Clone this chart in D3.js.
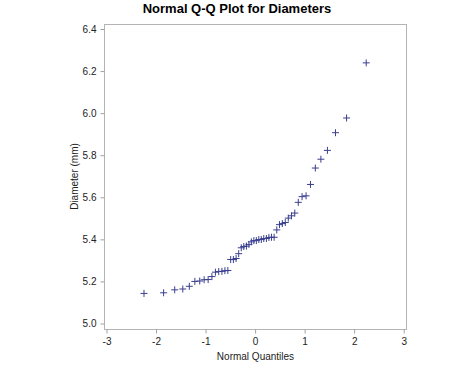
<!DOCTYPE html>
<html>
<head>
<meta charset="utf-8">
<script src="https://d3js.org/d3.v7.min.js"></script>
<style>
body { margin: 0; background: #fff; }
text { font-family: "Liberation Sans", Arial, sans-serif; }
</style>
</head>
<body>
<div id="chart"></div>
<script>
//normal quantiles (x)
var quantiles = [-2.243, -1.847, -1.623, -1.460, -1.328, -1.216, -1.118, -1.029, -0.948, -0.872,
	-0.801, -0.734, -0.670, -0.609, -0.550, -0.493, -0.438, -0.384, -0.331, -0.279,
	-0.228, -0.175, -0.125, -0.075, -0.025, 0.025, 0.075, 0.125, 0.175, 0.228,
	0.279, 0.331, 0.384, 0.438, 0.493, 0.550, 0.609, 0.670, 0.734, 0.801,
	0.872, 0.948, 1.029, 1.118, 1.216, 1.328, 1.460, 1.623, 1.847, 2.243];

//sorted diameters (y)
var diameters = [5.143, 5.146, 5.160, 5.164, 5.177, 5.200, 5.202, 5.208, 5.209, 5.223,
	5.244, 5.247, 5.248, 5.251, 5.252, 5.304, 5.304, 5.309, 5.332, 5.360,
	5.366, 5.368, 5.376, 5.388, 5.394, 5.394, 5.399, 5.399, 5.404, 5.404,
	5.409, 5.410, 5.410, 5.445, 5.470, 5.475, 5.480, 5.501, 5.512, 5.525,
	5.576, 5.603, 5.607, 5.661, 5.739, 5.781, 5.823, 5.907, 5.977, 6.239];

var xTicks = [-3, -2, -1, 0, 1, 2, 3];
var yTicks = [5.0, 5.2, 5.4, 5.6, 5.8, 6.0, 6.2, 6.4];

var width = 474;
var height = 370;

//frame of the plot area (window.top is reserved, so use other names)
var frameLeft = 104, frameRight = 407, frameTop = 24, frameBottom = 329;

var svg = d3.select("#chart")
	.append("svg")
	.attr("width", width)
	.attr("height", height);

var xScale = d3.scaleLinear()
	.domain([-3, 3])
	.range([106.5, 403.7]);

var yScale = d3.scaleLinear()
	.domain([5.0, 6.4])
	.range([323.5, 29]);

//title
svg.append("text")
	.attr("x", 237)
	.attr("y", 12.5)
	.style("text-anchor", "middle")
	.style("font-size", "13px")
	.style("font-weight", "bold")
	.attr("fill", "#000")
	.text("Normal Q-Q Plot for Diameters");

//frame
svg.append("rect")
	.attr("x", frameLeft + 0.5)
	.attr("y", frameTop + 0.5)
	.attr("width", frameRight - frameLeft - 1)
	.attr("height", frameBottom - frameTop)
	.attr("fill", "none")
	.attr("stroke", "#b4b4b4")
	.attr("stroke-width", 1);

//plain hyphen for negatives, like the original
var xAxis = d3.axisBottom(xScale)
	.tickValues(xTicks)
	.tickSize(4)
	.tickPadding(4)
	.tickFormat(function(d){ return String(d); });

var yAxis = d3.axisLeft(yScale)
	.tickValues(yTicks)
	.tickSize(4)
	.tickPadding(4)
	.tickFormat(function(d){ return d.toFixed(1); });

var gx = svg.append("g")
	.attr("transform", "translate(0," + (frameBottom + 0.5) + ")")
	.call(xAxis);

var gy = svg.append("g")
	.attr("transform", "translate(" + (frameLeft + 0.5) + ",0)")
	.call(yAxis);

//style both axes like the original
[gx, gy].forEach(function(g){
	g.select(".domain").remove();
	g.selectAll(".tick line").attr("stroke", "#a0a0a0");
	g.selectAll(".tick text")
		.attr("fill", "#222")
		.style("font-size", "10px")
		.style("font-family", "'Liberation Sans', Arial, sans-serif");
});

//axis labels
svg.append("text")
	.attr("x", (frameLeft + frameRight) / 2)
	.attr("y", 360)
	.style("text-anchor", "middle")
	.style("font-size", "10px")
	.attr("fill", "#222")
	.text("Normal Quantiles");

svg.append("text")
	.attr("transform", "translate(78," + ((frameTop + frameBottom) / 2) + ") rotate(-90)")
	.style("text-anchor", "middle")
	.style("font-size", "10px")
	.attr("fill", "#222")
	.text("Diameter (mm)");

//plus markers
var points = [];
for(var i = 0; i < diameters.length; i++)
{
	points.push([quantiles[i], diameters[i]]);
}

svg.selectAll(".pt")
	.data(points)
	.enter()
	.append("path")
	.attr("class", "pt")
	.attr("transform", function(d){
		return "translate(" + xScale(d[0]) + "," + yScale(d[1]) + ")";
	})
	.attr("d", "M-3.5,0H3.5M0,-3.5V3.5")
	.attr("fill", "none")
	.attr("stroke", "#3a3f8f")
	.attr("stroke-width", 1);
</script>
</body>
</html>
